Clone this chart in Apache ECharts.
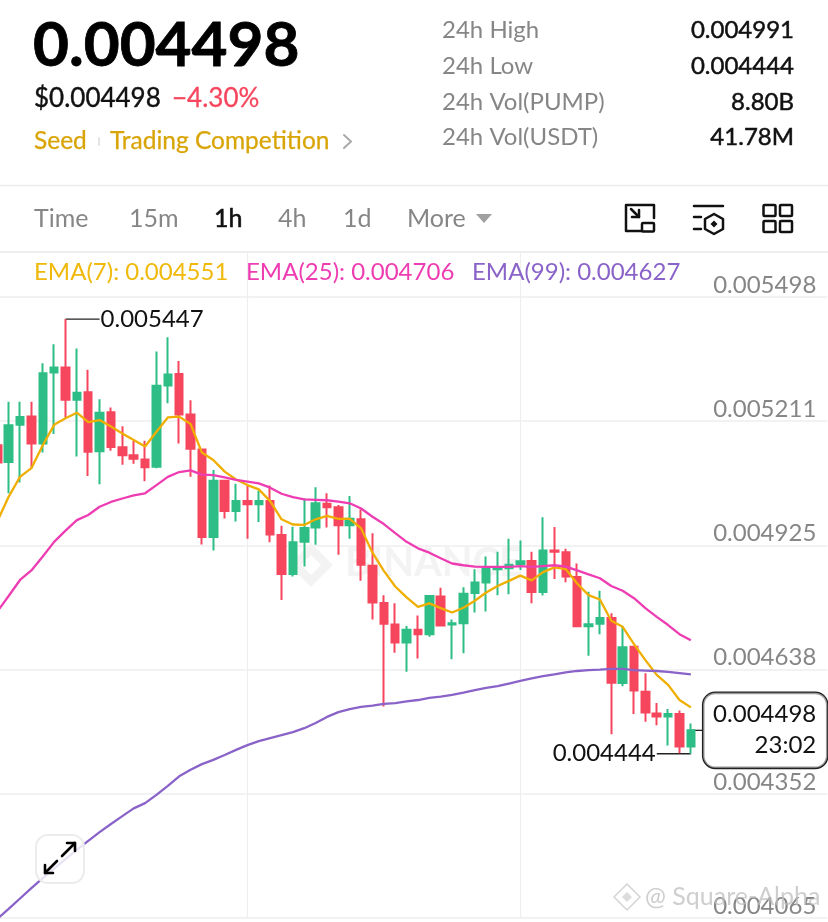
<!DOCTYPE html>
<html><head><meta charset="utf-8">
<style>html,body{margin:0;padding:0;background:#fff}#main{width:828px;height:922px}</style>
<script src="https://cdn.jsdelivr.net/npm/echarts@6/dist/echarts.min.js"></script>
</head><body><div id="main"></div>
<script>
// prices in millionths of USDT
const opens=[5156,5117,5203,5222,5160,5324,5335,5261,5278,5142,5232,5151,5133,5123,5106,5294,5320,5227,5146,4944,5074,5004,5027,5020,5027,4949,4859,4933,4966,5021,5013,4971,4985,4878,4792,4742,4701,4730,4720,4807,4742,4745,4815,4839,4870,4872,4882,4889,4817,4913,4909,4852,4738,4744,4757,4607,4691,4587,4537,4530,4536,4461];
const closes=[5116,5202,5221,5160,5322,5335,5261,5277,5141,5231,5152,5133,5125,5105,5293,5319,5227,5148,4944,5074,5004,5027,5020,5027,4950,4859,4932,4965,5022,5013,4971,4986,4880,4793,4744,4701,4730,4720,4808,4740,4745,4813,4839,4871,4872,4880,4888,4817,4913,4910,4853,4738,4743,4757,4608,4690,4590,4539,4530,4536,4461,4498];
const lows=[5091,5045,5070,5103,5139,5182,5220,5130,5085,5066,5143,5111,5113,5073,5103,5253,5160,5083,4927,4913,4987,4980,4940,4979,4932,4799,4853,4876,4926,4966,4903,4940,4843,4754,4553,4677,4633,4664,4714,4739,4662,4676,4770,4772,4810,4812,4868,4791,4809,4847,4840,4737,4670,4720,4489,4600,4536,4518,4510,4463,4445,4444];
const highs=[5183,5256,5256,5256,5345,5389,5447,5379,5330,5262,5243,5200,5166,5166,5372,5405,5350,5260,5146,5099,5074,5067,5064,5051,5063,4970,4968,5033,5059,5045,5018,5039,5008,4953,4810,4791,4739,4763,4810,4827,4754,4828,4870,4899,4910,4940,4936,4910,4990,4967,4917,4883,4818,4820,4768,4739,4691,4630,4561,4547,4544,4514];
const ema7=[4980,5037,5083,5103,5156,5203,5218,5231,5209,5214,5199,5183,5168,5153,5187,5220,5222,5205,5139,5122,5095,5077,5064,5054,5027,4985,4973,4972,4985,4993,4986,4986,4964,4908,4866,4830,4805,4783,4791,4780,4770,4781,4797,4816,4831,4843,4855,4844,4863,4874,4870,4837,4810,4800,4751,4737,4697,4660,4626,4603,4568,4551];
const ema25=[4772,4808,4845,4867,4899,4933,4959,4983,4995,5014,5025,5033,5040,5045,5064,5083,5094,5098,5088,5087,5082,5076,5072,5068,5058,5044,5036,5031,5030,5029,5026,5022,5010,4991,4974,4953,4933,4918,4908,4895,4883,4879,4876,4875,4875,4875,4877,4875,4877,4879,4876,4867,4858,4849,4831,4820,4803,4780,4760,4741,4720,4706];
const ema99=[4063,4086,4110,4134,4157,4179,4201,4222,4243,4263,4282,4300,4318,4330,4349,4370,4392,4407,4420,4430,4441,4453,4464,4473,4480,4487,4494,4503,4515,4529,4540,4547,4552,4555,4559,4561,4565,4568,4573,4576,4580,4585,4591,4596,4600,4606,4612,4618,4623,4627,4632,4635,4637,4638,4640,4640,4637,4636,4635,4633,4630,4627];
const axisMin=4065, axisStep=286.6, axisTopValue=5601.8;
const slotCount=74;
const highMark=5447, lowMark=4444, lastPrice=4498, countdown='23:02';
const gridBreaks=[22,46];
const statLabels=['24h High','24h Low','24h Vol(PUMP)','24h Vol(USDT)'];
const statValues=['0.004991','0.004444','8.80B','41.78M'];
const tabs=[['Time',34],['15m',129],['1h',214],['4h',278],['1d',343],['More',407]];
const emaTexts=[['EMA(7): 0.004551',34,'#F0B90B'],['EMA(25): 0.004706',246,'#EE3DB2'],['EMA(99): 0.004627',472,'#8A63C9']];

const GREEN='#2EBD85',RED='#F6465D',FONT='Lato',GREY='#868686';
const P=v=>v/1e6, fx=v=>(v/1e6).toFixed(6);
const cats=Array.from({length:slotCount},(_,i)=>String(i));
const last=opens.length-1;
function T(t,x,y,size,fill,align,weight,z,thick){return {type:'text',z:z||10,style:{text:t,x:x,y:y,fontSize:size,fill:fill,align:align||'left',verticalAlign:'middle',fontFamily:FONT,fontWeight:weight||'normal',stroke:thick?fill:null,lineWidth:thick||0}};}
function L(x1,y1,x2,y2,c,w,z){return {type:'line',z:z||10,shape:{x1,y1,x2,y2},style:{stroke:c,lineWidth:w,lineCap:'round'}};}
function PL(pts,c,w,z){return {type:'polyline',z:z||10,shape:{points:pts},style:{stroke:c,lineWidth:w,fill:null,lineJoin:'round',lineCap:'round'}};}
function R(x,y,w,h,c,lw,r,fill,z){return {type:'rect',z:z||10,shape:{x,y,width:w,height:h,r:r||0},style:{stroke:c,lineWidth:lw,fill:fill||null}};}
const g=[
 T('0.004498',33,46,62,'#000','left','bold',10,0.8),
 T('$0.004498',34,99,26,'#111','left','normal',10,0.4),
 T('\u22124.30%',172,99,26,RED,'left','normal',10,0.3),
 T('Seed',34,141,24.5,'#D9A406','left','normal',10,0.25),
 L(99,138,99,145,'#e4e4e4',2),
 T('Trading Competition',110,141,24.5,'#D9A406','left','normal',10,0.25),
 PL([[344,135],[351,141.5],[344,148]],'#aaaaaa',2),
 L(0,185.5,828,185.5,'#ececec',1.5),
 L(0,252,828,252,'#ececec',1.5),
 {type:'polygon',z:10,shape:{points:[[476,214],[492,214],[484,223]]},style:{fill:'#a0a0a0'}},
 PL([[642,231],[626,231],[626,205],[654,205],[654,218]],'#111',2.5),
 R(642,223,12,8.5,'#111',2.5,1),
 L(631,209,639,217,'#111',2.5),PL([[639,210],[639,217],[632,217]],'#111',2.5),
 L(694,206,723,206,'#111',2.5),L(694,217,701,217,'#111',2.5),L(694,229,701,229,'#111',2.5),
 PL([[714,214],[723,219],[723,229],[714,234],[705,229],[705,219],[714,214]],'#111',2.5),
 {type:'polygon',z:10,shape:{points:[[714,220.5],[717.5,224],[714,227.5],[710.5,224]]},style:{fill:'#111'}},
 R(763.5,205,12,11,'#111',2.5,1),R(780,205,12,11,'#111',2.5,1),R(763.5,221,12,11,'#111',2.5,1),R(780,221,12,11,'#111',2.5,1),
 // chart watermark
 {type:'group',z:1,children:[
   {type:'polygon',z:1,shape:{points:[[311,543],[333,565],[311,587],[289,565]]},style:{fill:'#f3f3f3'}},
   {type:'polygon',z:1,shape:{points:[[311,555],[321,565],[311,575],[301,565]]},style:{fill:'#fff'}},
   {type:'text',z:1,style:{text:'BINANCE',x:345,y:563,fontSize:40,fontWeight:'bold',fill:'#f3f3f3',fontFamily:FONT,verticalAlign:'middle'}}
 ]},
 // zoom button
 R(36,835,48,48,'#ececec',2,12,'rgba(255,255,255,0.82)',20),
 L(45,873,57,861,'#000',2.6,21),PL([[45,865],[45,873],[53,873]],'#000',2.6,21),
 L(62,856,75,843,'#000',2.6,21),PL([[67,843],[75,843],[75,851]],'#000',2.6,21),
 // credit watermark
 {type:'polygon',z:30,shape:{points:[[627,884],[640,897],[627,910],[614,897]]},style:{fill:'rgba(255,255,255,0.6)',stroke:'#d4d4d4',lineWidth:1.5}},
 {type:'polygon',z:30,shape:{points:[[627,892],[632,897],[627,902],[622,897]]},style:{fill:'#dcdcdc'}},
 T('@ Square-Alpha',645,897,25,'rgba(190,190,190,0.75)','left','normal',30)
];
tabs.forEach((t,i)=>g.push(T(t[0],t[1],219,25,t[0]==='1h'?'#111':GREY,'left','normal',10,t[0]==='1h'?0.6:0)));
emaTexts.forEach(t=>g.push(T(t[0],t[1],272,24,t[2])));
statLabels.forEach((s,i)=>{const y=[30,66,102,137][i];g.push(T(s,442,y,24,GREY));g.push(T(statValues[i],794,y,24,'#111','right','normal',10,0.5));});

const line=(name,data,color)=>({name,type:'line',data:data.map(P),symbol:'none',smooth:false,z:5,silent:true,clip:true,lineStyle:{color,width:2.3}});
const note=(data,z)=>({type:'line',symbol:'circle',symbolSize:2,showSymbol:true,showAllSymbol:true,z:z||1,silent:true,clip:false,lineStyle:{color:'#222',width:1.3},itemStyle:{color:'rgba(0,0,0,0)'},data,labelLayout:{hideOverlap:false}});
const lab=(fs)=>Object.assign({show:true,color:'#111',fontSize:24,fontFamily:FONT},fs);

const option={
 animation:false,backgroundColor:'#fff',
 textStyle:{fontFamily:FONT},
 grid:{left:-2.73,right:0.7,top:252,bottom:4,containLabel:false,outerBoundsMode:'none'},
 xAxis:{type:'category',data:cats,boundaryGap:false,axisLine:{show:false},axisTick:{show:false},axisLabel:{show:false},
   splitLine:{show:true,interval:(i)=>gridBreaks.includes(i),lineStyle:{color:'#eeeeee',width:1.2}}},
 yAxis:{type:'value',position:'right',min:P(axisMin),max:P(axisTopValue),interval:P(axisStep),scale:true,
   axisLine:{show:false},axisTick:{show:false},
   splitLine:{show:true,lineStyle:{color:'#eeeeee',width:1.5}},
   axisLabel:{inside:true,margin:11,fontSize:24,color:GREY,fontFamily:FONT,verticalAlign:'bottom',showMinLabel:true,showMaxLabel:true,hideOverlap:false,
     formatter:v=>v>P(5550)?'':v.toFixed(6)}},
 graphic:{elements:g},
 series:[
  {type:'candlestick',z:3,barWidth:8,silent:true,clip:true,
   data:opens.map((o,i)=>[P(o),P(closes[i]),P(lows[i]),P(highs[i])]),
   itemStyle:{color:GREEN,color0:RED,borderColor:GREEN,borderColor0:RED,borderWidth:2}},
  line('EMA(7)',ema7,'#EFAE00'),line('EMA(25)',ema25,'#EE3DB2'),line('EMA(99)',ema99,'#8A63C9'),
  note([[6,P(highMark)],{value:[9,P(highMark)],label:lab({position:'right',distance:0,offset:[0,2],formatter:()=>fx(highMark)})}]),
  note([{value:[58,P(lowMark)],label:lab({position:'left',distance:0,offset:[0,2.5],formatter:()=>fx(lowMark)})},[last,P(lowMark)]]),
  note([[last,P(lastPrice)],{value:[last+1,P(lastPrice)],label:lab({position:'right',distance:0,offset:[-0.5,14.5],
     formatter:()=>'{a|'+fx(lastPrice)+'}\n{a|'+countdown+'}',
     rich:{a:{width:102,align:'right',lineHeight:31,fontSize:24,color:'#111',fontFamily:FONT}},padding:[6,11,7,11],
     backgroundColor:'rgba(255,255,255,0.55)',borderColor:'#222',borderWidth:1.3,borderRadius:12})}])
 ]
};
const chart=echarts.init(document.getElementById('main'),null,{renderer:'canvas',width:828,height:922});
chart.setOption(option);
</script></body></html>
